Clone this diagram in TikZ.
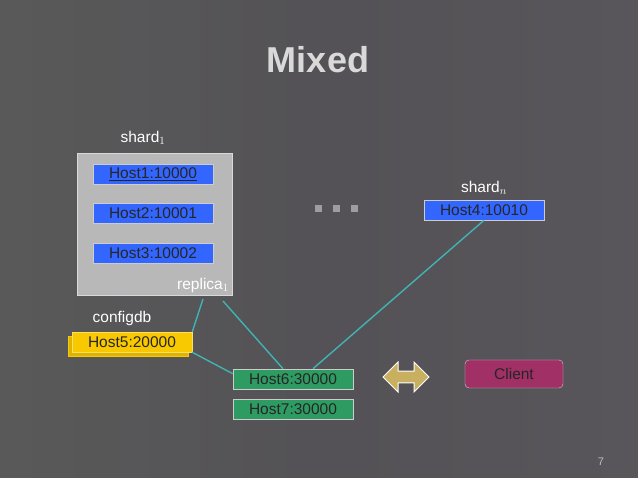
\documentclass[tikz,border=0pt]{standalone}
\usepackage{fontspec}
\setmainfont{Liberation Sans}
\usetikzlibrary{shapes.arrows}
\definecolor{bgc}{HTML}{58565A}
\definecolor{hblue}{HTML}{3366FF}
\definecolor{hgreen}{HTML}{2E9B63}
\definecolor{hyel}{HTML}{F8C800}
\definecolor{cli}{HTML}{A03065}
\definecolor{teal}{HTML}{40B4B4}
\definecolor{tan}{HTML}{C8B060}
\tikzset{
 host/.style={draw=white!80!black, line width=0.6pt, minimum width=120pt, minimum height=20pt, inner sep=0pt, font=\fontsize{15.5}{15.5}\selectfont, text=black!85},
 lbl/.style={text=white, font=\fontsize{15.5}{15.5}\selectfont},
 conn/.style={draw=teal, line width=1.4pt}
}
\begin{document}
\begin{tikzpicture}[x=1pt,y=-1pt]
\useasboundingbox (0,0) rectangle (638,478);
\shade[left color=black!65!white, right color=bgc, middle color=bgc!95!black] (0,0) rectangle (638,478);
\node[font=\bfseries\fontsize{36}{36}\selectfont, text=black!15] (title) at (318,60) {Mixed};
\node[draw=white!85!black, fill=black!28, line width=0.8pt, minimum width=155pt, minimum height=142pt, anchor=north west] (shard) at (77,153) {};
\node[lbl] (s1) at (143,138) {shard$_1$};
\node[host, fill=hblue] (h1) at (153,174) {\underline{Host1:10000}};
\node[host, fill=hblue] (h2) at (153,213) {Host2:10001};
\node[host, fill=hblue] (h3) at (153,253) {Host3:10002};
\node[lbl] (r1) at (203,285) {replica$_1$};
\node[lbl] (cfg) at (122,318) {configdb};
\node[host, fill=hyel!90!black, draw=hyel] (h5b) at (128,346) {};
\node[host, fill=hyel, draw=hyel!60!white] (h5) at (132,342) {Host5:20000};
\node[host, fill=hgreen] (h6) at (293,379) {Host6:30000};
\node[host, fill=hgreen] (h7) at (293,409) {Host7:30000};
\node[host, fill=hblue] (h4) at (484,210) {Host4:10010};
\node[lbl] (sn) at (484,188) {shard$_n$};
\node[draw=white!80!black, fill=cli, rounded corners=4pt, minimum width=98pt, minimum height=28pt, font=\fontsize{15.5}{15.5}\selectfont, text=black!85] (cl) at (514,374) {Client};
\node[double arrow, draw=white, line width=1pt, fill=tan, minimum width=30pt, double arrow head extend=4pt, minimum height=46pt, inner sep=2pt] (arr) at (406,377) {};
\foreach \i in {0,1,2} \fill[black!38] (315+\i*18,205) rectangle ++(7,7);
\coordinate (c1) at (203,299);
\coordinate (c2) at (223,301);
\draw[conn] (c1) -- (h5.north east);
\draw[conn] (c2) -- ([xshift=-10pt]h6.north);
\draw[conn] (h5.south east) -- ([yshift=-5pt]h6.north west);
\draw[conn] (h4.south) -- ([xshift=20pt]h6.north);
\node[text=black!25, font=\fontsize{11}{11}\selectfont] (pg) at (601,462) {7};
\end{tikzpicture}
\end{document}
